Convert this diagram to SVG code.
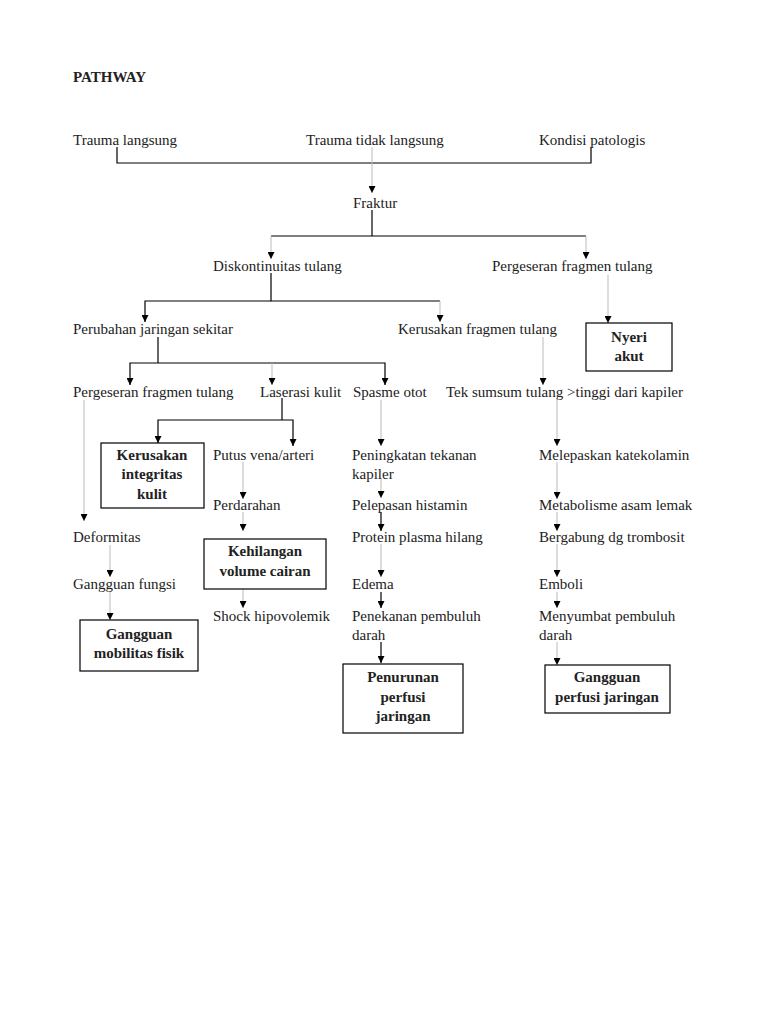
<svg xmlns="http://www.w3.org/2000/svg" width="768" height="1024" viewBox="0 0 768 1024">
<defs>
<marker id="d" viewBox="0 0 10 10" refX="10" refY="5" markerWidth="7" markerHeight="7" orient="auto" markerUnits="userSpaceOnUse"><path d="M0,0 L10,5 L0,10 z" fill="#000"/></marker>
</defs>
<style>
text{font-family:"Liberation Serif",serif;font-size:15px;fill:#222}
.b{font-weight:bold;text-anchor:middle}
.k{fill:none;stroke:#000;stroke-width:1.2}
.g{fill:none;stroke:#bbb;stroke-width:1}
.ar{marker-end:url(#d)}
rect{fill:#fff;stroke:#000;stroke-width:1.2}
</style>
<rect width="768" height="1024" style="stroke:none"/>
<text x="73" y="82" style="font-weight:bold">PATHWAY</text>
<g id="connectors">
<path class="k" d="M117,147V163H591V147"/>
<path class="g ar" d="M372,147V193"/>
<path class="k" d="M372,210V236"/>
<path class="k" d="M271,236H586"/>
<path class="g ar" d="M271,236V259"/>
<path class="g ar" d="M586,236V259"/>
<path class="k" d="M271,273V301H440"/>
<path class="k ar" d="M271,301H145V322"/>
<path class="g ar" d="M440,301V322"/>
<path class="g ar" d="M608,275V323"/>
<path class="k" d="M158,337V363"/>
<path class="k ar" d="M158,363H130V385"/>
<path class="k ar" d="M158,363H385V385"/>
<path class="g ar" d="M272,363V385"/>
<path class="g ar" d="M543,337V385"/>
<path class="k" d="M282,398V420"/>
<path class="k ar" d="M282,420H158V443"/>
<path class="k ar" d="M282,420H293V446"/>
<path class="g ar" d="M84,400V521"/>
<path class="g ar" d="M110,545V577"/>
<path class="g ar" d="M110,592V620"/>
<path class="g ar" d="M243,462V499"/>
<path class="g ar" d="M243,512V531"/>
<path class="g ar" d="M243,589V608"/>
<path class="g ar" d="M381,400V446"/>
<path class="g ar" d="M381,478V498"/>
<path class="k ar" d="M381,512V531"/>
<path class="g ar" d="M381,544V577"/>
<path class="k ar" d="M381,592V608"/>
<path class="k ar" d="M381,642V663"/>
<path class="g ar" d="M557,400V446"/>
<path class="g ar" d="M557,462V499"/>
<path class="g ar" d="M557,512V531"/>
<path class="g ar" d="M557,544V577"/>
<path class="g ar" d="M557,592V608"/>
<path class="g ar" d="M557,642V665"/>
</g>
<g id="n1"><text x="73" y="145">Trauma langsung</text></g>
<g id="n2"><text x="306" y="145">Trauma tidak langsung</text></g>
<g id="n3"><text x="539" y="145">Kondisi patologis</text></g>
<g id="n4"><text x="353" y="208">Fraktur</text></g>
<g id="n5"><text x="213" y="271">Diskontinuitas tulang</text></g>
<g id="n6"><text x="492" y="271">Pergeseran fragmen tulang</text></g>
<g id="n7"><text x="73" y="334">Perubahan jaringan sekitar</text></g>
<g id="n8"><text x="398" y="334">Kerusakan fragmen tulang</text></g>
<g id="n9"><rect x="586" y="323" width="86" height="48"/><text class="b" x="629" y="342">Nyeri</text><text class="b" x="629" y="361">akut</text></g>
<g id="n10"><text x="73" y="397">Pergeseran fragmen tulang</text></g>
<g id="n11"><text x="260" y="397">Laserasi kulit</text></g>
<g id="n12"><text x="353" y="397">Spasme otot</text></g>
<g id="n13"><text x="446" y="397">Tek sumsum tulang &gt;tinggi dari kapiler</text></g>
<g id="n14"><rect x="101" y="443" width="103" height="65"/><text class="b" x="152" y="460">Kerusakan</text><text class="b" x="152" y="479">integritas</text><text class="b" x="152" y="499">kulit</text></g>
<g id="n15"><text x="213" y="460">Putus vena/arteri</text></g>
<g id="n16"><text x="213" y="510">Perdarahan</text></g>
<g id="n17"><rect x="204" y="539" width="122" height="50"/><text class="b" x="265" y="556">Kehilangan</text><text class="b" x="265" y="576">volume cairan</text></g>
<g id="n18"><text x="213" y="621">Shock hipovolemik</text></g>
<g id="n19"><text x="73" y="542">Deformitas</text></g>
<g id="n20"><text x="73" y="589">Gangguan fungsi</text></g>
<g id="n21"><rect x="80" y="620" width="118" height="51"/><text class="b" x="139" y="639">Gangguan</text><text class="b" x="139" y="658">mobilitas fisik</text></g>
<g id="n22"><text x="352" y="460">Peningkatan tekanan</text><text x="352" y="479">kapiler</text></g>
<g id="n23"><text x="352" y="510">Pelepasan histamin</text></g>
<g id="n24"><text x="352" y="542">Protein plasma hilang</text></g>
<g id="n25"><text x="352" y="589">Edema</text></g>
<g id="n26"><text x="352" y="621">Penekanan pembuluh</text><text x="352" y="640">darah</text></g>
<g id="n27"><rect x="343" y="664" width="120" height="69"/><text class="b" x="403" y="682">Penurunan</text><text class="b" x="403" y="702">perfusi</text><text class="b" x="403" y="721">jaringan</text></g>
<g id="n28"><text x="539" y="460">Melepaskan katekolamin</text></g>
<g id="n29"><text x="539" y="510">Metabolisme asam lemak</text></g>
<g id="n30"><text x="539" y="542">Bergabung dg trombosit</text></g>
<g id="n31"><text x="539" y="589">Emboli</text></g>
<g id="n32"><text x="539" y="621">Menyumbat pembuluh</text><text x="539" y="640">darah</text></g>
<g id="n33"><rect x="545" y="665" width="125" height="48"/><text class="b" x="607" y="682">Gangguan</text><text class="b" x="607" y="702">perfusi jaringan</text></g>
</svg>
